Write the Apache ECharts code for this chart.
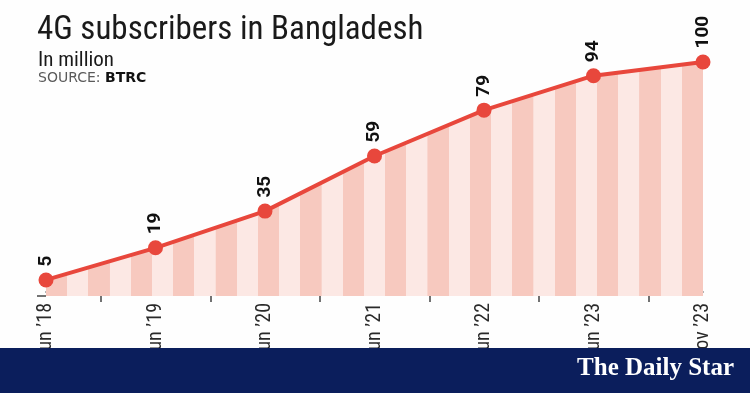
<!DOCTYPE html>
<html>
<head>
<meta charset="utf-8">
<script src="https://cdn.jsdelivr.net/npm/echarts@6/dist/echarts.min.js"></script>
<style>
html,body{margin:0;padding:0;background:#fefefe;}
#chart{width:750px;height:393px;}
</style>
</head>
<body>
<div id="chart"></div>
<script>
var categories = ['Jun \u201918','Jun \u201919','Jun \u201920','Jun \u201921','Jun \u201922','Jun \u201923','Nov \u201923'];
var subscribers = [5, 19, 35, 59, 79, 94, 100];
var titleText = '4G subscribers in Bangladesh';
var unitText = 'In million';
var sourceLabel = 'SOURCE: ';
var sourceName = 'BTRC';
var brandText = 'The Daily Star';

var RED = '#e8473c';
var DARK_STRIPE = '#f7c9bf';
var LIGHT_STRIPE = '#fce8e4';
var NAVY = '#0b1e5c';
var COND = '"Roboto Condensed", "DejaVu Sans Condensed", sans-serif';

var chart = echarts.init(document.getElementById('chart'), null, {renderer:'canvas'});

function makeStripeCanvas(){
  var c = document.createElement('canvas');
  c.width = 200; c.height = 10;
  var ctx = c.getContext('2d');
  ctx.fillStyle = DARK_STRIPE; ctx.fillRect(0,0,100,10);
  ctx.fillStyle = LIGHT_STRIPE; ctx.fillRect(100,0,100,10);
  return c;
}

function footerGraphics(extra){
  var g = [
    {type:'rect', left:0, top:348, z:100, shape:{width:750, height:45}, style:{fill:NAVY}},
    {type:'text', right:16, top:356, z:101,
     style:{text: brandText, fill:'#ffffff', font:'bold 25px "Liberation Serif"'}}
  ];
  return extra ? g.concat(extra) : g;
}

var baseOption = {
  animation: false,
  backgroundColor: '#fefefe',
  title: [
    {text: titleText, left: 37, top: 14, padding: 0,
     textStyle:{fontFamily: COND, fontSize:33, fontWeight:'normal', color:'#1a1a1a'}},
    {text: unitText, left: 38, top: 50, padding: 0,
     textStyle:{fontFamily: COND, fontSize:21, fontWeight:'normal', color:'#1a1a1a'}},
    {text: '{a|' + sourceLabel + '}{b|' + sourceName + '}', left: 38, top: 71, padding: 0,
     textStyle:{fontWeight:'normal', rich:{
       a:{fontFamily:'DejaVu Sans', fontSize:14, fontWeight:'normal', color:'#5a5a5a'},
       b:{fontFamily:'DejaVu Sans', fontSize:14, fontWeight:'bold', color:'#111111'}
     }}}
  ],
  grid: {left: 46, right: 47, top: 39, bottom: 97},
  xAxis: [
    {type:'category', data: categories, boundaryGap:false,
     axisLine:{show:true, lineStyle:{color:'#444', width:1.5}},
     axisTick:{show:false},
     axisLabel:{rotate:90, margin:7, fontFamily: COND, fontSize:20, color:'#2a2a2a'},
     splitLine:{show:false}},
    {type:'value', min:0, max: categories.length - 1, interval:1, position:'bottom',
     axisLine:{show:false}, axisTick:{show:false}, axisLabel:{show:false}, splitLine:{show:false},
     minorTick:{show:true, splitNumber:2, length:6, lineStyle:{color:'#444', width:1.5}},
     minorSplitLine:{show:false}}
  ],
  yAxis: {type:'value', min:-2, max:110, show:false, splitLine:{show:false}},
  series: [{
    type:'line',
    data: subscribers,
    xAxisIndex:0,
    symbol:'circle', symbolSize:15,
    lineStyle:{color:RED, width:4},
    itemStyle:{color:RED},
    areaStyle:{color: DARK_STRIPE, opacity:1, origin:'start'},
    label:{show:true, position:'top', rotate:90, align:'left', verticalAlign:'middle', distance:6,
           fontFamily:'Roboto', fontWeight:'bold', fontSize:19, color:'#111'},
    z: 3
  }],
  graphic: footerGraphics()
};
chart.setOption(baseOption);

var x0 = chart.convertToPixel({xAxisIndex:0}, categories[0]);
var x1 = chart.convertToPixel({xAxisIndex:0}, categories[categories.length-1]);
var yAxisPix = chart.convertToPixel({yAxisIndex:0}, -2);
var stripeCount = 31;
var stripeW = (x1 - x0) / stripeCount;
chart.setOption({
  series: [{
    areaStyle:{opacity:1, origin:'start',
      color:{image: makeStripeCanvas(), repeat:'repeat', x: x0, y: 0, scaleX: stripeW/100, scaleY:1}}
  }],
  graphic: footerGraphics([
    {type:'line', z:2, shape:{x1: x0 - 9, y1: yAxisPix, x2: x0, y2: yAxisPix},
     style:{stroke:'#444', lineWidth:1.5}}
  ])
});
</script>
</body>
</html>
